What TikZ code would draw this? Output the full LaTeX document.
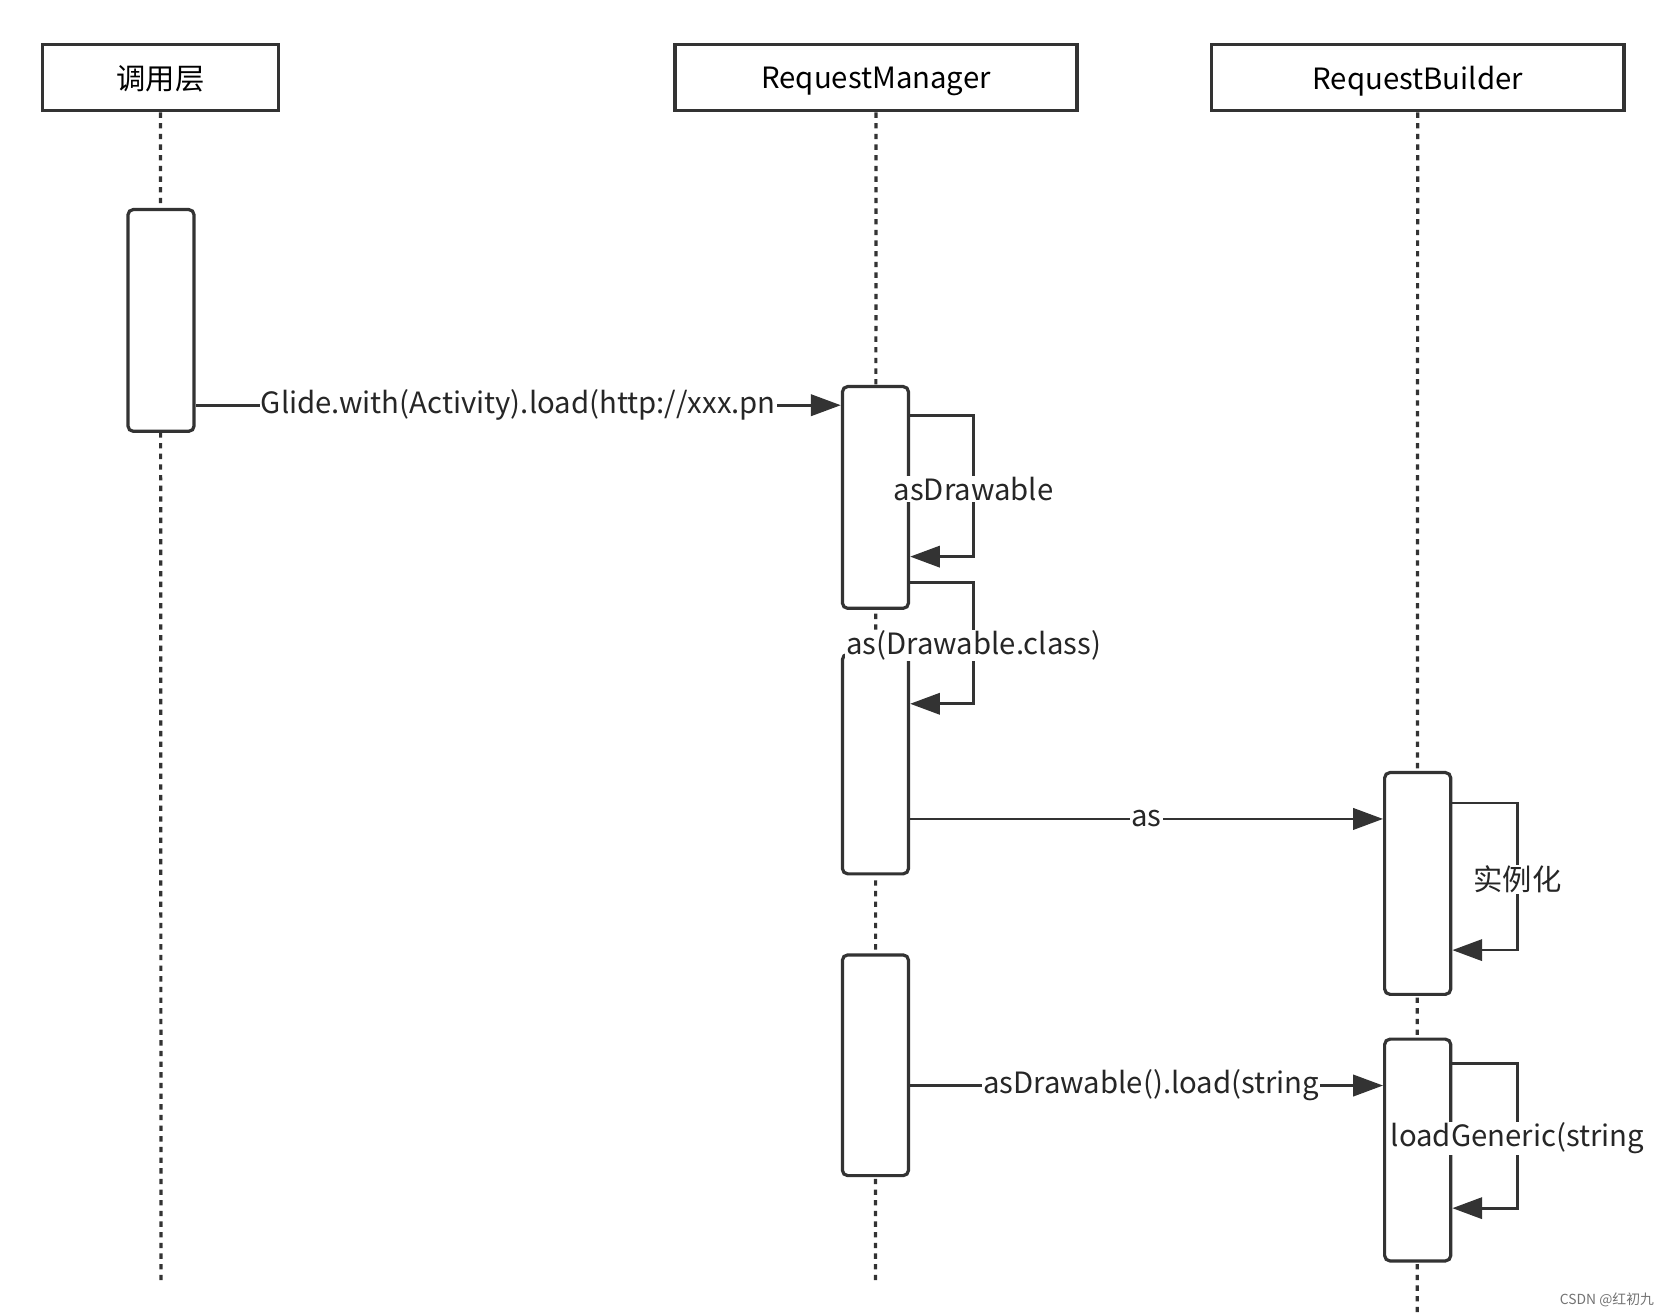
\documentclass[tikz,border=0pt]{standalone}
\usepackage{fontspec}
\setmainfont{Noto Sans CJK SC}
\usetikzlibrary{arrows.meta}
\begin{document}
\begin{tikzpicture}[x=1pt,y=-1pt,
  hdr/.style={draw=black!80,line width=3pt,minimum height=62pt,text depth=0pt,font=\fontsize{27.5}{30}\selectfont},
  act/.style={draw=black!80,line width=3pt,fill=white,rounded corners=5pt,minimum width=62pt,anchor=north},
  life/.style={line width=3pt,black!80,dash pattern=on 5pt off 5pt},
  msg/.style={line width=2.6pt,black!80,-{Triangle[length=28pt,width=20pt]}},
  lbl/.style={fill=white,inner sep=1pt,font=\fontsize{27.5}{30}\selectfont,text=black!85}]
\useasboundingbox (0,0) rectangle (1568,1234);
\node[hdr,minimum width=221pt] (h1) at (150.5,73) {调用层};
\node[hdr,minimum width=377pt] (h2) at (821.5,73) {RequestManager};
\node[hdr,minimum width=387pt] (h3) at (1329.5,73) {RequestBuilder};
\coordinate (e1) at (151,1205);
\coordinate (e2) at (821,1205);
\coordinate (e3) at (1329,1234);
\draw[life] (h1.south) -- (e1);
\draw[life] (h2.south) -- (e2);
\draw[life] (h3.south) -- (e3);
\node[act,minimum height=208pt] (a1) at (151,195) {};
\node[act,minimum height=208pt] (m1) at (821,361) {};
\node[act,minimum height=206pt] (m2) at (821,612) {};
\node[act,minimum height=207pt] (m3) at (821,894) {};
\node[act,minimum height=208pt] (b1) at (1329.5,723) {};
\node[act,minimum height=208pt] (b2) at (1329.5,973) {};
% messages
\draw[msg] (a1.east|-0,380) -- node[lbl,pos=0.5]{Glide.with(Activity).load(http://xxx.pn} (m1.west|-0,380);
\draw[msg] (m1.east|-0,390) -- (913,390) -- node[lbl,pos=0.52]{asDrawable} (913,522) -- (m1.east|-0,522);
\draw[msg] (m1.east|-0,546) -- (913,546) -- node[lbl,pos=0.52]{as(Drawable.class)} (913,660) -- (m2.east|-0,660);
\draw[msg] (m2.east|-0,768) -- node[lbl,pos=0.5]{as} (b1.west|-0,768);
\draw[msg] (b1.east|-0,753) -- (1423,753) -- node[lbl,pos=0.52]{实例化} (1423,891) -- (b1.east|-0,891);
\draw[msg] (m3.east|-0,1018) -- node[lbl,pos=0.51]{asDrawable().load(string} (b2.west|-0,1018);
\draw[msg] (b2.east|-0,997) -- (1423,997) -- node[lbl,pos=0.52]{loadGeneric(string} (1423,1133) -- (b2.east|-0,1133);
\node[font=\fontsize{13}{15}\selectfont,text=black!55] (wm) at (1507,1219) {CSDN @红初九};
\end{tikzpicture}
\end{document}
